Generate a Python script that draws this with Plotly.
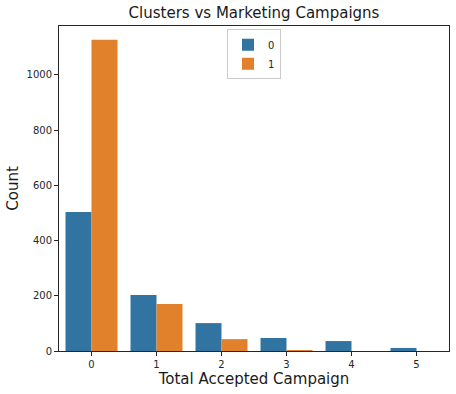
import plotly.graph_objects as go

categories = ["0", "1", "2", "3", "4", "5"]
cluster0 = [503, 203, 101, 47, 36, 11]
cluster1 = [1127, 170, 43, 3, 0, 0]
series_names = ["0", "1"]
colors = ["#3274a1", "#e1812c"]

fig = go.Figure()
for name, vals, col in zip(series_names, [cluster0, cluster1], colors):
    fig.add_trace(go.Bar(x=[int(c) for c in categories], y=vals, name=name,
                         marker=dict(color=col, line=dict(width=0)), width=0.4))

W, H = 456, 394
fig.update_layout(
    barmode="group", bargap=0.2, bargroupgap=0,
    width=W, height=H,
    margin=dict(l=59, r=7, t=26, b=43),
    paper_bgcolor="white", plot_bgcolor="white",
    font=dict(family="DejaVu Sans", size=10, color="#262626"),
    title=dict(text="Clusters vs Marketing Campaigns", x=(59 + 449) / 2 / W, xanchor="center",
               y=1 - 13 / H, yanchor="middle", font=dict(size=15, color="#1a1a1a")),
    legend=dict(x=0.5, xanchor="center", y=0.99, yanchor="top", bgcolor="rgba(255,255,255,0.8)",
                bordercolor="#cccccc", borderwidth=1, font=dict(size=10), tracegroupgap=0,
                itemwidth=30),
    xaxis=dict(range=[-0.5, 5.5], tickmode="array", tickvals=[0, 1, 2, 3, 4, 5], ticktext=categories,
               showline=True, linecolor="#262626", linewidth=1, mirror=True, automargin=False,
               ticks="outside", ticklen=4, tickcolor="#262626", showgrid=False, zeroline=False,
               title=dict(text="Total Accepted Campaign", font=dict(size=15, color="#1a1a1a"), standoff=4)),
    yaxis=dict(range=[0, 1177], tickvals=[0, 200, 400, 600, 800, 1000],
               showline=True, linecolor="#262626", linewidth=1, mirror=True, automargin=False,
               ticks="outside", ticklen=4, tickcolor="#262626", showgrid=False, zeroline=False,
               title=dict(text="Count", font=dict(size=15, color="#1a1a1a"), standoff=4)),
)

fig.write_html("out.html", config={"displayModeBar": False},
               post_script="document.body.style.margin='0';")
